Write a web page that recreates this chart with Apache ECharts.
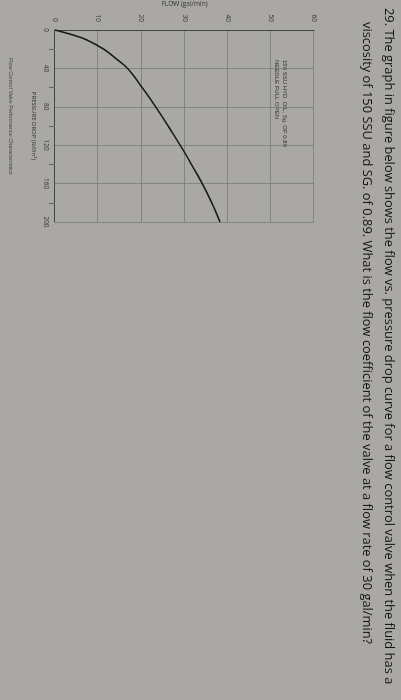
<!DOCTYPE html>
<html>
<head>
<meta charset="utf-8">
<script src="https://cdn.jsdelivr.net/npm/echarts@6/dist/echarts.min.js"></script>
<style>
html,body{margin:0;padding:0;width:401px;height:700px;overflow:hidden;background:#a9a8a4;}
#chart{position:absolute;left:0;top:0;width:700px;height:401px;transform-origin:0 0;transform:translateX(401px) rotate(90deg);}
</style>
</head>
<body>
<div id="chart"></div>
<script>
// the page in the photo is turned a quarter turn, so the chart is drawn upright and the div is rotated
var pressure = [0, 5, 10, 20, 30, 40, 60, 80, 100, 120, 140, 160, 180, 200];
var flow = [0, 4, 7.2, 11.3, 14.2, 16.8, 20.2, 23.3, 26.2, 29, 31.6, 34.1, 36.3, 38.2];
var question1 = '29. The graph in figure below shows the flow vs. pressure drop curve for a flow control valve when the fluid has a';
var question2 = 'viscosity of 150 SSU and SG. of 0.89. What is the flow coefficient of the valve at a flow rate of 30 gal/min?';

var points = [];
for (var i = 0; i < pressure.length; i++) {
    points.push([pressure[i], flow[i]]);
}

var chart = echarts.init(document.getElementById('chart'));
var option = {
    backgroundColor: 'transparent',
    animation: false,
    textStyle: {fontFamily: 'Open Sans'},
    graphic: [
        {type: 'text', left: 8, top: 6, style: {text: question1, fontSize: 12.9, fill: '#141414', fontFamily: 'Open Sans'}},
        {type: 'text', left: 22, top: 28, style: {text: question2, fontSize: 12.9, fill: '#141414', fontFamily: 'Open Sans'}},
        {type: 'text', left: 60, top: 112, style: {text: '150 SSU HYD. OIL, Sg. OF 0.89\nNEEDLE FULL OPEN', fontSize: 6, fill: '#333', align: 'center', lineHeight: 8}},
        {type: 'text', left: 58, top: 387, style: {text: 'Flow Control Valve Performance Characteristics', fontSize: 5.5, fill: '#444'}}
    ],
    grid: {left: 30, top: 87, width: 192, height: 259},
    xAxis: {
        type: 'value', min: 0, max: 200, interval: 40,
        name: 'PRESSURE DROP (lbf/in²)', nameLocation: 'middle', nameGap: 16,
        nameTextStyle: {fontSize: 6, color: '#333'},
        axisLine: {lineStyle: {color: '#444', width: 1}},
        axisTick: {show: false},
        minorTick: {show: true, splitNumber: 2, length: 6, lineStyle: {color: '#666'}},
        axisLabel: {fontSize: 6.5, color: '#333', margin: 6},
        splitLine: {lineStyle: {color: '#7a7a78', width: 0.8}}
    },
    yAxis: {
        type: 'value', min: 0, max: 60, interval: 10,
        name: 'FLOW (gal/min)', nameLocation: 'middle', nameGap: 22,
        nameTextStyle: {fontSize: 6.5, color: '#333'},
        axisLine: {show: true, lineStyle: {color: '#444', width: 1}},
        axisTick: {show: false},
        axisLabel: {fontSize: 6.5, color: '#333', margin: 8},
        splitLine: {lineStyle: {color: '#7a7a78', width: 0.8}}
    },
    series: [{
        type: 'line',
        data: points,
        smooth: 0.4,
        showSymbol: false,
        lineStyle: {color: '#1a1a1a', width: 1.6}
    }]
};
chart.setOption(option);
</script>
</body>
</html>
